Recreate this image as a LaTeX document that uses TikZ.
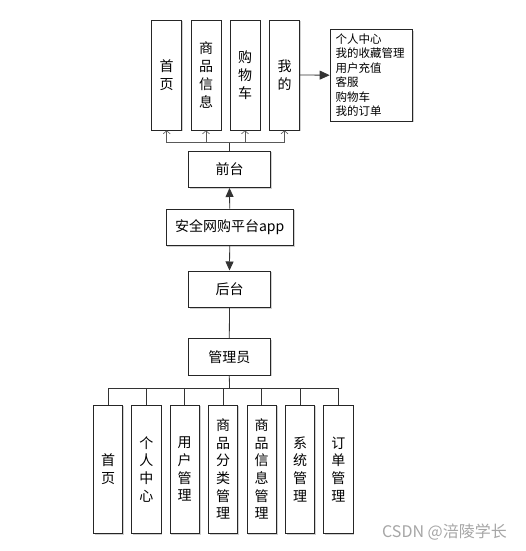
\documentclass[tikz,border=0pt]{standalone}
\usepackage{fontspec}
\setmainfont{Noto Sans CJK SC}
\usetikzlibrary{arrows.meta,shadows}
\tikzset{
  box/.style={draw=black!85, line width=0.8pt, fill=white,
    drop shadow={shadow xshift=1.3pt, shadow yshift=-1.3pt, fill=black!30, opacity=0.6},
    inner sep=0pt, align=center, font=\fontsize{14}{18}\selectfont},
  vbox/.style={box, minimum width=30pt, minimum height=110pt},
  lbox/.style={box, minimum width=29.5pt, minimum height=128.3pt, font=\fontsize{14}{17.6}\selectfont},
  hbox/.style={box, minimum width=82.5pt, minimum height=36.6pt},
  listbox/.style={box, text width=71.3pt, inner xsep=5.5pt, inner ysep=0pt, minimum height=91.7pt,
    align=left, font=\fontsize{11.5}{14.4}\selectfont},
  conn/.style={draw=black!80, line width=0.8pt},
  gconn/.style={draw=black!65, line width=0.8pt},
  fillarrow/.style={conn, -{Triangle[length=9pt,width=8pt]}},
  bigarrow/.style={conn, -{Triangle[length=10pt,width=9pt]}},
  openarrow/.style={gconn, -{Straight Barb[length=3pt,width=7pt,line width=0.6pt]}},
}
\begin{document}
\begin{tikzpicture}[x=1pt,y=-1pt]
\useasboundingbox[fill=white] (0,0) rectangle (525,551);
% top boxes
\node[vbox] (t1) at (166.7,75) {首\\页};
\node[vbox] (t2) at (206,75) {商\\品\\信\\息};
\node[vbox] (t3) at (245,75) {购\\物\\车};
\node[vbox] (t4) at (284.5,75) {我\\的};
\node[listbox] (list) at (371.2,75.2) {个人中心\\我的收藏管理\\用户充值\\客服\\购物车\\我的订单};
\draw[bigarrow] (t4.east) -- (list.west);
% middle
\node[hbox] (qt) at (229.5,169.3) {前台};
\node[box, minimum width=127.3pt, minimum height=36.7pt] (app) at (229.7,227.3) {安全网购平台app};
\node[hbox] (ht) at (229.5,289.2) {后台};
\node[hbox] (gly) at (229.3,356.7) {管理员};
\draw[fillarrow] (app.north) -- (qt.south);
\draw[fillarrow] (app.south) -- (ht.north);
\draw[conn] (ht.south) -- (gly.north);
% top bus
\coordinate (bt) at (229.5,142.7);
\draw[conn] (qt.north) -- (bt);
\draw[gconn] (bt -| t1.south) -- (bt -| t4.south);
\foreach \i in {1,2,3,4} \draw[openarrow] (bt -| t\i.south) -- (t\i.south);
% bottom boxes
\node[lbox] (b1) at (108,469.2) {首\\页};
\node[lbox] (b2) at (146.3,469.2) {个\\人\\中\\心};
\node[lbox] (b3) at (184.7,469.2) {用\\户\\管\\理};
\node[lbox] (b4) at (223,469.2) {商\\品\\分\\类\\管\\理};
\node[lbox] (b5) at (261.7,469.2) {商\\品\\信\\息\\管\\理};
\node[lbox] (b6) at (300,469.2) {系\\统\\管\\理};
\node[lbox] (b7) at (338.3,469.2) {订\\单\\管\\理};
\coordinate (bb) at (229.5,388.3);
\draw[conn] (gly.south) -- (bb);
\draw[conn] (bb -| b1.north) -- (bb -| b7.north);
\foreach \i in {1,...,7} \draw[conn] (bb -| b\i.north) -- (b\i.north);
% watermark
\node[anchor=east, inner sep=0pt, text=black!35, font=\fontsize{16}{16}\selectfont] (wm) at (507,531.7) {CSDN @涪陵学长};
\end{tikzpicture}
\end{document}
